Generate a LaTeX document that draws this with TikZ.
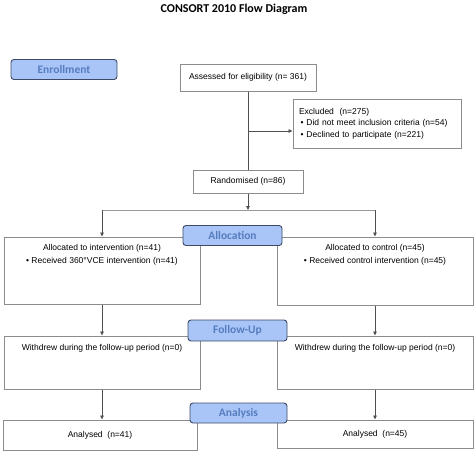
\documentclass[tikz,border=0pt]{standalone}
\usepackage{fontspec}
\setmainfont{Liberation Sans}
\newfontfamily\stagefont{Carlito}
\usepackage{tikz}
\usetikzlibrary{arrows.meta,positioning}
\definecolor{stageFill}{RGB}{169,197,248}
\definecolor{stageEdge}{RGB}{60,74,102}
\definecolor{stageText}{RGB}{86,124,190}
\definecolor{boxGray}{RGB}{140,140,140}
\definecolor{lineGray}{RGB}{80,80,80}

\begin{document}
\begin{tikzpicture}[
  x=1pt, y=-1pt,
  stage/.style={rectangle, rounded corners=3pt, draw=stageEdge,
                fill=stageFill, line width=0.9pt, text=stageText,
                font=\stagefont\bfseries\fontsize{11.5}{13}\selectfont,
                minimum width=#1, minimum height=20pt, inner sep=0pt},
  flowbox/.style 2 args={rectangle, draw=boxGray, line width=1pt,
                fill=white, minimum width=#1, minimum height=#2,
                inner sep=0pt},
  txt/.style={font=\fontsize{8.5}{13}\selectfont, align=center,
              inner sep=0pt},
  arr/.style={-{Triangle[length=4pt,width=3.5pt]}, lineGray,
              line width=0.8pt},
  link/.style={lineGray, line width=0.8pt}
]
  \useasboundingbox (0,0) rectangle (474,453);

  \node[font=\stagefont\bfseries\fontsize{12}{14}\selectfont] (title)
    at (234,9) {CONSORT 2010 Flow Diagram};

  % enrollment
  \node[flowbox={136}{27}, txt] (assess) at (248,77.5)
    {Assessed for eligibility (n= 361)};
  \node[flowbox={168}{49}, font=\fontsize{8.5}{11.5}\selectfont,
        text width=156pt, align=left, inner xsep=6pt] (excl) at (377,123.5)
    {Excluded\ \ (n=275)\\
     \hspace{1.5pt}\textbullet\hspace{3pt}Did not meet inclusion criteria (n=54)\\
     \hspace{1.5pt}\textbullet\hspace{3pt}Declined to participate (n=221)};
  \node[flowbox={110}{23}, txt] (rand) at (248,181.5) {Randomised (n=86)};

  % allocation
  \node[flowbox={196}{67}] (allocL) at (102,270.5) {};
  \node[flowbox={196}{68}] (allocR) at (375,271) {};
  \node[txt, below=8pt of allocL.north] (allocLt)
    {Allocated to intervention (n=41)\\
     \textbullet\ Received 360°VCE intervention (n=41)};
  \node[txt, below=8pt of allocR.north] (allocRt)
    {Allocated to control (n=45)\\
     \textbullet\ Received control intervention (n=45)};

  % follow-up
  \node[flowbox={196}{53}] (followL) at (102,362.5) {};
  \node[flowbox={196}{53}] (followR) at (375,362.5) {};
  \node[txt, below=9pt of followL.north] (followLt)
    {Withdrew during the follow-up period (n=0)};
  \node[txt, below=9pt of followR.north] (followRt)
    {Withdrew during the follow-up period (n=0)};

  % analysis
  \node[flowbox={194}{30}, txt] (anaL) at (100,435) {Analysed\ \ (n=41)};
  \node[flowbox={196}{28}, txt] (anaR) at (375,434) {Analysed\ \ (n=45)};

  % connectors
  \coordinate (exc) at (248,131);
  \coordinate (split) at (248,210);
  \draw[link] (assess) -- (rand);
  \draw[arr] (exc) -- (exc -| excl.west);
  \draw[arr] (rand) -- (split);
  \draw[link, draw=gray!80] (split -| allocL) -- (split -| allocR);
  \draw[arr] (split -| allocL) -- (allocL);
  \draw[arr] (split -| allocR) -- (allocR);
  \draw[arr] (allocL) -- (followL);
  \draw[arr] (allocR) -- (followR);
  \draw[arr] (followL.south) -- (followL.south |- anaL.north);
  \draw[arr] (followR) -- (anaR);

  % stage labels
  \node[stage=106pt] (enroll) at (64,69.5) {Enrollment};
  \node[stage=99pt] (alloc) at (232.5,235.5) {Allocation};
  \node[stage=99pt, minimum height=21pt] (follow) at (237.5,330.5) {Follow-Up};
  \node[stage=97pt] (analysis) at (238.5,413) {Analysis};
\end{tikzpicture}
\end{document}
